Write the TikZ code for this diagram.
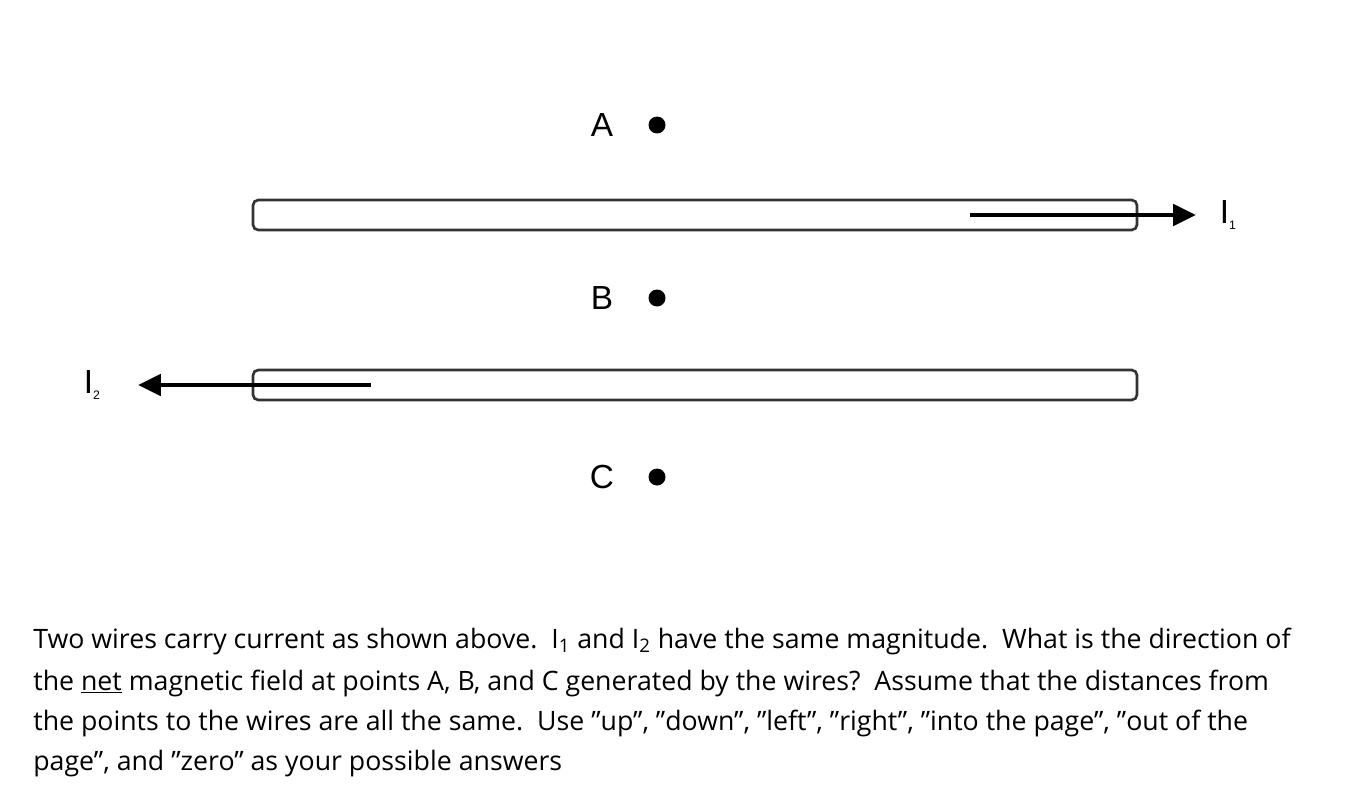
\documentclass[tikz,border=0pt]{standalone}
\usepackage{fontspec}
\setmainfont{Open Sans}
\newfontfamily\lab{Liberation Sans}
\usetikzlibrary{arrows.meta}
\newcommand{\qq}{\symbol{34}}
\begin{document}
\begin{tikzpicture}[x=0.02cm,y=-0.02cm,
  wire/.style={draw=black!80,line width=1.5pt,rounded corners=3pt},
  cur/.style={line width=2.6pt,-{Triangle[length=13pt,width=12pt]}},
  dot/.style={circle,fill=black,inner sep=0pt,minimum size=0.34cm},
  lbl/.style={font=\lab\fontsize{19}{21}\selectfont},
  para/.style={anchor=base west,inner sep=0pt,font=\fontsize{15.2}{17}\selectfont}]
\useasboundingbox (0,0) rectangle (1348,794);
\draw[wire] (253,200) rectangle (1137,230);
\draw[wire] (253,370) rectangle (1137,400);
\coordinate (s1) at (970,215); \coordinate (e1) at (1196,215);
\coordinate (s2) at (371,385); \coordinate (e2) at (138,385);
\draw[cur] (s1) -- (e1);
\draw[cur] (s2) -- (e2);
\node[lbl] (i1) at (1228,215) {I\raisebox{-0.35ex}{\scriptsize 1}};
\node[lbl] (i2) at (92,385) {I\raisebox{-0.35ex}{\scriptsize 2}};
\node[lbl] (la) at (602,125) {A}; \node[dot] (da) at (657,125) {};
\node[lbl] (lb) at (602,298) {B}; \node[dot] (db) at (657,298) {};
\node[lbl] (lc) at (602,477) {C}; \node[dot] (dc) at (657,477) {};
\node[para] (t1) at (33,648) {Two wires carry current as shown above.\ \ I\textsubscript{1} and I\textsubscript{2} have the same magnitude.\ \ What is the direction of};
\node[para] (t2) at (33,690) {the \underline{net} magnetic field at points A, B, and C generated by the wires?\ \ Assume that the distances from};
\node[para] (t3) at (33,730) {the points to the wires are all the same.\ \ Use \qq up\qq, \qq down\qq, \qq left\qq, \qq right\qq, \qq into the page\qq, \qq out of the};
\node[para] (t4) at (33,770) {page\qq, and \qq zero\qq\ as your possible answers};
\end{tikzpicture}
\end{document}
